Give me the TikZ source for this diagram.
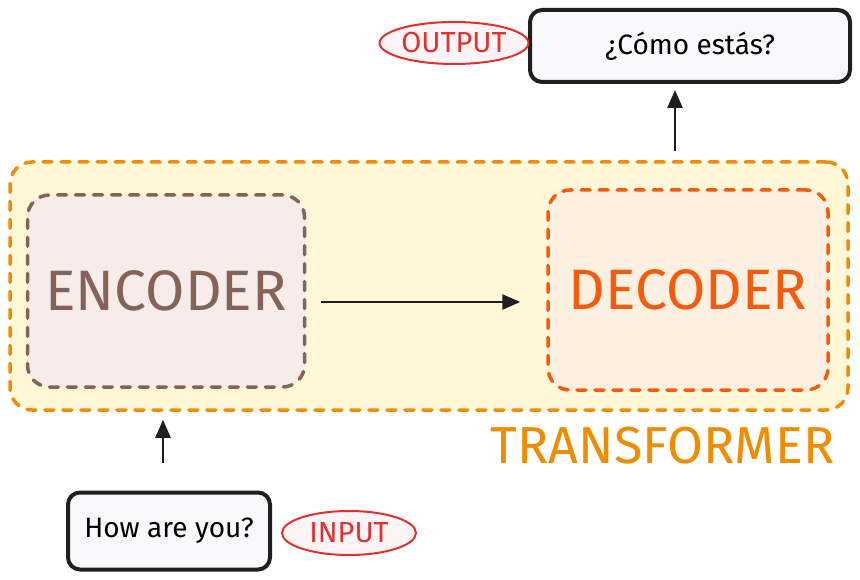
\documentclass[tikz,border=0pt]{standalone}
\usepackage{fontspec}
\setmainfont{Fira Sans}
\usetikzlibrary{shapes.geometric,arrows.meta}

\definecolor{trorange}{HTML}{F08C00}
\definecolor{trfill}{HTML}{FFF7D6}
\definecolor{encbrown}{HTML}{846358}
\definecolor{encfill}{HTML}{F7ECEA}
\definecolor{decorange}{HTML}{F45B0C}
\definecolor{decfill}{HTML}{FDF0E0}
\definecolor{tagred}{HTML}{E03131}
\definecolor{boxfill}{HTML}{F8F9FA}

\begin{document}
\begin{tikzpicture}[x=1pt, y=-1pt,
	dashbox/.style = {rounded corners=22pt, line width=3.5pt, line cap=round, dash pattern=on 9pt off 9pt},
	textbox/.style = {draw=black!88, fill=boxfill, line width=4pt, rounded corners=12pt, font=\fontsize{28}{32}\selectfont},
	tag/.style = {ellipse, draw=tagred, fill=tagred!5, line width=2pt, text=tagred, inner sep=0pt, font=\fontsize{29}{32}\selectfont},
	arr/.style = {-{Triangle[length=18pt,width=15pt]}, line width=2.5pt, draw=black!88, fill=black!88},]
		\useasboundingbox (0,0) rectangle (860,580);

		\node[dashbox, draw=trorange, fill=trfill, minimum width=838pt, minimum height=248pt] (tr) at (429,286) {};
		\node[dashbox, draw=encbrown, fill=encfill, minimum width=277pt, minimum height=192pt, text=encbrown, font=\fontsize{57}{62}\selectfont] (enc) at (166,291) {ENCODER};
		\node[dashbox, draw=decorange, fill=decfill, minimum width=280pt, minimum height=200pt, text=decorange, font=\fontsize{57}{62}\selectfont] (dec) at (688,290) {DECODER};
		\node[anchor=east, text=trorange, font=\fontsize{52}{58}\selectfont] (trlabel) at (838,446) {TRANSFORMER};

		\node[textbox, minimum width=320pt, minimum height=72pt] (out) at (690,46) {¿Cómo estás?};
		\node[textbox, minimum width=202pt, minimum height=77pt] (in) at (169,531) {How are you?};
		\node[tag, minimum width=134pt, minimum height=42pt] (outtag) at (454,43) {OUTPUT};
		\node[tag, minimum width=134pt, minimum height=44pt] (intag) at (349,533) {INPUT};

		\draw[arr, shorten <=15pt, shorten >=26pt] ([yshift=-11pt]enc.east) -- ([yshift=-12pt]dec.west);
		\draw[arr, shorten <=9pt, shorten >=6pt] ([xshift=-15pt]out.south |- tr.north) -- ([xshift=-15pt]out.south);
		\draw[arr, shorten <=28pt, shorten >=8pt] ([xshift=-6pt]in.north) -- ([xshift=-6pt]in.north |- tr.south);
	\end{tikzpicture}
\end{document}
